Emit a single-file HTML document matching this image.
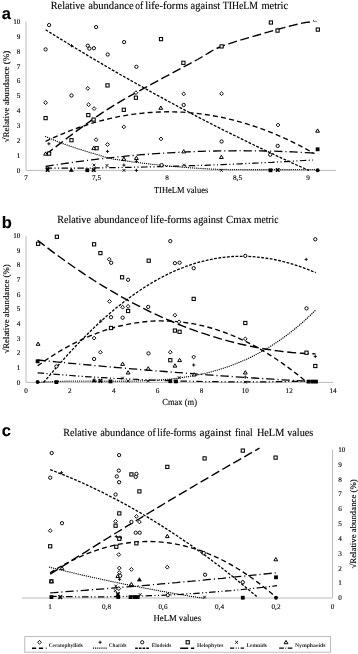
<!DOCTYPE html>
<html><head><meta charset="utf-8"><style>
html,body{margin:0;padding:0;background:#fff;}
svg{display:block;filter:blur(0.35px);text-rendering:geometricPrecision;}
</style></head><body>
<svg width="358" height="654" viewBox="0 0 358 654">
<rect width="358" height="654" fill="#fff"/>
<line x1="26" y1="21.5" x2="26" y2="170.4" stroke="#b4b4b4" stroke-width="0.9"/>
<line x1="26" y1="170.4" x2="336" y2="170.4" stroke="#b4b4b4" stroke-width="0.9"/>
<text x="20.4" y="172.7" font-size="7.2" font-family="'Liberation Serif', 'Times New Roman', serif" text-anchor="end" stroke="#000" stroke-width="0.12">0</text>
<text x="20.4" y="157.82" font-size="7.2" font-family="'Liberation Serif', 'Times New Roman', serif" text-anchor="end" stroke="#000" stroke-width="0.12">1</text>
<text x="20.4" y="142.94" font-size="7.2" font-family="'Liberation Serif', 'Times New Roman', serif" text-anchor="end" stroke="#000" stroke-width="0.12">2</text>
<text x="20.4" y="128.06" font-size="7.2" font-family="'Liberation Serif', 'Times New Roman', serif" text-anchor="end" stroke="#000" stroke-width="0.12">3</text>
<text x="20.4" y="113.18" font-size="7.2" font-family="'Liberation Serif', 'Times New Roman', serif" text-anchor="end" stroke="#000" stroke-width="0.12">4</text>
<text x="20.4" y="98.3" font-size="7.2" font-family="'Liberation Serif', 'Times New Roman', serif" text-anchor="end" stroke="#000" stroke-width="0.12">5</text>
<text x="20.4" y="83.42" font-size="7.2" font-family="'Liberation Serif', 'Times New Roman', serif" text-anchor="end" stroke="#000" stroke-width="0.12">6</text>
<text x="20.4" y="68.54" font-size="7.2" font-family="'Liberation Serif', 'Times New Roman', serif" text-anchor="end" stroke="#000" stroke-width="0.12">7</text>
<text x="20.4" y="53.66" font-size="7.2" font-family="'Liberation Serif', 'Times New Roman', serif" text-anchor="end" stroke="#000" stroke-width="0.12">8</text>
<text x="20.4" y="38.78" font-size="7.2" font-family="'Liberation Serif', 'Times New Roman', serif" text-anchor="end" stroke="#000" stroke-width="0.12">9</text>
<text x="20.4" y="23.9" font-size="7.2" font-family="'Liberation Serif', 'Times New Roman', serif" text-anchor="end" stroke="#000" stroke-width="0.12">10</text>
<text x="26" y="180.4" font-size="7.2" font-family="'Liberation Serif', 'Times New Roman', serif" text-anchor="middle" stroke="#000" stroke-width="0.12">7</text>
<text x="96.5" y="180.4" font-size="7.2" font-family="'Liberation Serif', 'Times New Roman', serif" text-anchor="middle" stroke="#000" stroke-width="0.12">7,5</text>
<text x="167" y="180.4" font-size="7.2" font-family="'Liberation Serif', 'Times New Roman', serif" text-anchor="middle" stroke="#000" stroke-width="0.12">8</text>
<text x="237.5" y="180.4" font-size="7.2" font-family="'Liberation Serif', 'Times New Roman', serif" text-anchor="middle" stroke="#000" stroke-width="0.12">8,5</text>
<text x="308" y="180.4" font-size="7.2" font-family="'Liberation Serif', 'Times New Roman', serif" text-anchor="middle" stroke="#000" stroke-width="0.12">9</text>
<text x="50.8" y="8.5" font-size="11.0" font-family="'Liberation Serif', 'Times New Roman', serif" textLength="34.1" lengthAdjust="spacingAndGlyphs" stroke="#000" stroke-width="0.12">Relative</text>
<text x="88.2" y="8.5" font-size="11.0" font-family="'Liberation Serif', 'Times New Roman', serif" textLength="45.5" lengthAdjust="spacingAndGlyphs" stroke="#000" stroke-width="0.12">abundance</text>
<text x="135.2" y="8.5" font-size="11.0" font-family="'Liberation Serif', 'Times New Roman', serif" textLength="7.9" lengthAdjust="spacingAndGlyphs" stroke="#000" stroke-width="0.12">of</text>
<text x="145.3" y="8.5" font-size="11.0" font-family="'Liberation Serif', 'Times New Roman', serif" textLength="42.5" lengthAdjust="spacingAndGlyphs" stroke="#000" stroke-width="0.12">life-forms</text>
<text x="190.6" y="8.5" font-size="11.0" font-family="'Liberation Serif', 'Times New Roman', serif" textLength="29.6" lengthAdjust="spacingAndGlyphs" stroke="#000" stroke-width="0.12">against</text>
<text x="222.7" y="8.5" font-size="11.0" font-family="'Liberation Serif', 'Times New Roman', serif" textLength="35.3" lengthAdjust="spacingAndGlyphs" stroke="#000" stroke-width="0.12">TIHeLM</text>
<text x="261.5" y="8.5" font-size="11.0" font-family="'Liberation Serif', 'Times New Roman', serif" textLength="26.6" lengthAdjust="spacingAndGlyphs" stroke="#000" stroke-width="0.12">metric</text>
<text x="153.9" y="192.6" font-size="9.2" font-family="'Liberation Serif', 'Times New Roman', serif" textLength="54.3" lengthAdjust="spacingAndGlyphs" stroke="#000" stroke-width="0.12">TIHeLM values</text>
<text transform="translate(9.2,96.6) rotate(-90)" font-size="8.6" font-family="'Liberation Serif', 'Times New Roman', serif" text-anchor="middle" textLength="91.6" stroke="#000" stroke-width="0.12" lengthAdjust="spacingAndGlyphs">√Relative abundance (%)</text>
<text x="1.8" y="18.6" font-size="16.5" font-family="'Liberation Sans', Arial, sans-serif" font-weight="bold" stroke="#000" stroke-width="0.12">a</text>
<line x1="26" y1="235.7" x2="26" y2="382.4" stroke="#b4b4b4" stroke-width="0.9"/>
<line x1="26" y1="382.4" x2="333" y2="382.4" stroke="#b4b4b4" stroke-width="0.9"/>
<text x="20.4" y="384.7" font-size="7.2" font-family="'Liberation Serif', 'Times New Roman', serif" text-anchor="end" stroke="#000" stroke-width="0.12">0</text>
<text x="20.4" y="370.03" font-size="7.2" font-family="'Liberation Serif', 'Times New Roman', serif" text-anchor="end" stroke="#000" stroke-width="0.12">1</text>
<text x="20.4" y="355.36" font-size="7.2" font-family="'Liberation Serif', 'Times New Roman', serif" text-anchor="end" stroke="#000" stroke-width="0.12">2</text>
<text x="20.4" y="340.69" font-size="7.2" font-family="'Liberation Serif', 'Times New Roman', serif" text-anchor="end" stroke="#000" stroke-width="0.12">3</text>
<text x="20.4" y="326.02" font-size="7.2" font-family="'Liberation Serif', 'Times New Roman', serif" text-anchor="end" stroke="#000" stroke-width="0.12">4</text>
<text x="20.4" y="311.35" font-size="7.2" font-family="'Liberation Serif', 'Times New Roman', serif" text-anchor="end" stroke="#000" stroke-width="0.12">5</text>
<text x="20.4" y="296.68" font-size="7.2" font-family="'Liberation Serif', 'Times New Roman', serif" text-anchor="end" stroke="#000" stroke-width="0.12">6</text>
<text x="20.4" y="282.01" font-size="7.2" font-family="'Liberation Serif', 'Times New Roman', serif" text-anchor="end" stroke="#000" stroke-width="0.12">7</text>
<text x="20.4" y="267.34" font-size="7.2" font-family="'Liberation Serif', 'Times New Roman', serif" text-anchor="end" stroke="#000" stroke-width="0.12">8</text>
<text x="20.4" y="252.67" font-size="7.2" font-family="'Liberation Serif', 'Times New Roman', serif" text-anchor="end" stroke="#000" stroke-width="0.12">9</text>
<text x="20.4" y="238.0" font-size="7.2" font-family="'Liberation Serif', 'Times New Roman', serif" text-anchor="end" stroke="#000" stroke-width="0.12">10</text>
<text x="26.0" y="392.6" font-size="7.2" font-family="'Liberation Serif', 'Times New Roman', serif" text-anchor="middle" stroke="#000" stroke-width="0.12">0</text>
<text x="69.86" y="392.6" font-size="7.2" font-family="'Liberation Serif', 'Times New Roman', serif" text-anchor="middle" stroke="#000" stroke-width="0.12">2</text>
<text x="113.72" y="392.6" font-size="7.2" font-family="'Liberation Serif', 'Times New Roman', serif" text-anchor="middle" stroke="#000" stroke-width="0.12">4</text>
<text x="157.58" y="392.6" font-size="7.2" font-family="'Liberation Serif', 'Times New Roman', serif" text-anchor="middle" stroke="#000" stroke-width="0.12">6</text>
<text x="201.44" y="392.6" font-size="7.2" font-family="'Liberation Serif', 'Times New Roman', serif" text-anchor="middle" stroke="#000" stroke-width="0.12">8</text>
<text x="245.3" y="392.6" font-size="7.2" font-family="'Liberation Serif', 'Times New Roman', serif" text-anchor="middle" stroke="#000" stroke-width="0.12">10</text>
<text x="289.16" y="392.6" font-size="7.2" font-family="'Liberation Serif', 'Times New Roman', serif" text-anchor="middle" stroke="#000" stroke-width="0.12">12</text>
<text x="333.02" y="392.6" font-size="7.2" font-family="'Liberation Serif', 'Times New Roman', serif" text-anchor="middle" stroke="#000" stroke-width="0.12">14</text>
<text x="57.2" y="222.8" font-size="11.0" font-family="'Liberation Serif', 'Times New Roman', serif" textLength="33.7" lengthAdjust="spacingAndGlyphs" stroke="#000" stroke-width="0.12">Relative</text>
<text x="94.2" y="222.8" font-size="11.0" font-family="'Liberation Serif', 'Times New Roman', serif" textLength="44.9" lengthAdjust="spacingAndGlyphs" stroke="#000" stroke-width="0.12">abundance</text>
<text x="140.2" y="222.8" font-size="11.0" font-family="'Liberation Serif', 'Times New Roman', serif" textLength="7.9" lengthAdjust="spacingAndGlyphs" stroke="#000" stroke-width="0.12">of</text>
<text x="150.3" y="222.8" font-size="11.0" font-family="'Liberation Serif', 'Times New Roman', serif" textLength="41.0" lengthAdjust="spacingAndGlyphs" stroke="#000" stroke-width="0.12">life-forms</text>
<text x="193.6" y="222.8" font-size="11.0" font-family="'Liberation Serif', 'Times New Roman', serif" textLength="29.3" lengthAdjust="spacingAndGlyphs" stroke="#000" stroke-width="0.12">against</text>
<text x="226.1" y="222.8" font-size="11.0" font-family="'Liberation Serif', 'Times New Roman', serif" textLength="25.5" lengthAdjust="spacingAndGlyphs" stroke="#000" stroke-width="0.12">Cmax</text>
<text x="254.0" y="222.8" font-size="11.0" font-family="'Liberation Serif', 'Times New Roman', serif" textLength="24.4" lengthAdjust="spacingAndGlyphs" stroke="#000" stroke-width="0.12">metric</text>
<text x="162.3" y="404.7" font-size="9.2" font-family="'Liberation Serif', 'Times New Roman', serif" textLength="34.7" lengthAdjust="spacingAndGlyphs" stroke="#000" stroke-width="0.12">Cmax (m)</text>
<text transform="translate(8.6,308.9) rotate(-90)" font-size="8.6" font-family="'Liberation Serif', 'Times New Roman', serif" text-anchor="middle" textLength="89.4" stroke="#000" stroke-width="0.12" lengthAdjust="spacingAndGlyphs">√Relative abundance (%)</text>
<text x="1.8" y="227.9" font-size="16.5" font-family="'Liberation Sans', Arial, sans-serif" font-weight="bold" stroke="#000" stroke-width="0.12">b</text>
<line x1="332.5" y1="449.5" x2="332.5" y2="598" stroke="#b4b4b4" stroke-width="0.9"/>
<line x1="21.8" y1="598" x2="332.5" y2="598" stroke="#b4b4b4" stroke-width="0.9"/>
<text x="338.2" y="600.3" font-size="7.2" font-family="'Liberation Serif', 'Times New Roman', serif" stroke="#000" stroke-width="0.12">0</text>
<text x="338.2" y="585.45" font-size="7.2" font-family="'Liberation Serif', 'Times New Roman', serif" stroke="#000" stroke-width="0.12">1</text>
<text x="338.2" y="570.6" font-size="7.2" font-family="'Liberation Serif', 'Times New Roman', serif" stroke="#000" stroke-width="0.12">2</text>
<text x="338.2" y="555.75" font-size="7.2" font-family="'Liberation Serif', 'Times New Roman', serif" stroke="#000" stroke-width="0.12">3</text>
<text x="338.2" y="540.9" font-size="7.2" font-family="'Liberation Serif', 'Times New Roman', serif" stroke="#000" stroke-width="0.12">4</text>
<text x="338.2" y="526.05" font-size="7.2" font-family="'Liberation Serif', 'Times New Roman', serif" stroke="#000" stroke-width="0.12">5</text>
<text x="338.2" y="511.2" font-size="7.2" font-family="'Liberation Serif', 'Times New Roman', serif" stroke="#000" stroke-width="0.12">6</text>
<text x="338.2" y="496.35" font-size="7.2" font-family="'Liberation Serif', 'Times New Roman', serif" stroke="#000" stroke-width="0.12">7</text>
<text x="338.2" y="481.5" font-size="7.2" font-family="'Liberation Serif', 'Times New Roman', serif" stroke="#000" stroke-width="0.12">8</text>
<text x="338.2" y="466.65" font-size="7.2" font-family="'Liberation Serif', 'Times New Roman', serif" stroke="#000" stroke-width="0.12">9</text>
<text x="338.2" y="451.8" font-size="7.2" font-family="'Liberation Serif', 'Times New Roman', serif" stroke="#000" stroke-width="0.12">10</text>
<text x="50.0" y="608.8" font-size="7.2" font-family="'Liberation Serif', 'Times New Roman', serif" text-anchor="middle" stroke="#000" stroke-width="0.12">1</text>
<text x="106.5" y="608.8" font-size="7.2" font-family="'Liberation Serif', 'Times New Roman', serif" text-anchor="middle" stroke="#000" stroke-width="0.12">0,8</text>
<text x="163.0" y="608.8" font-size="7.2" font-family="'Liberation Serif', 'Times New Roman', serif" text-anchor="middle" stroke="#000" stroke-width="0.12">0,6</text>
<text x="219.5" y="608.8" font-size="7.2" font-family="'Liberation Serif', 'Times New Roman', serif" text-anchor="middle" stroke="#000" stroke-width="0.12">0,4</text>
<text x="276.0" y="608.8" font-size="7.2" font-family="'Liberation Serif', 'Times New Roman', serif" text-anchor="middle" stroke="#000" stroke-width="0.12">0,2</text>
<text x="332.5" y="608.8" font-size="7.2" font-family="'Liberation Serif', 'Times New Roman', serif" text-anchor="middle" stroke="#000" stroke-width="0.12">0</text>
<text x="63.2" y="436.1" font-size="11.0" font-family="'Liberation Serif', 'Times New Roman', serif" textLength="33.7" lengthAdjust="spacingAndGlyphs" stroke="#000" stroke-width="0.12">Relative</text>
<text x="100.2" y="436.1" font-size="11.0" font-family="'Liberation Serif', 'Times New Roman', serif" textLength="44.5" lengthAdjust="spacingAndGlyphs" stroke="#000" stroke-width="0.12">abundance</text>
<text x="147.6" y="436.1" font-size="11.0" font-family="'Liberation Serif', 'Times New Roman', serif" textLength="8.0" lengthAdjust="spacingAndGlyphs" stroke="#000" stroke-width="0.12">of</text>
<text x="157.3" y="436.1" font-size="11.0" font-family="'Liberation Serif', 'Times New Roman', serif" textLength="38.6" lengthAdjust="spacingAndGlyphs" stroke="#000" stroke-width="0.12">life-forms</text>
<text x="199.5" y="436.1" font-size="11.0" font-family="'Liberation Serif', 'Times New Roman', serif" textLength="32.0" lengthAdjust="spacingAndGlyphs" stroke="#000" stroke-width="0.12">against</text>
<text x="235.0" y="436.1" font-size="11.0" font-family="'Liberation Serif', 'Times New Roman', serif" textLength="17.6" lengthAdjust="spacingAndGlyphs" stroke="#000" stroke-width="0.12">final</text>
<text x="256.9" y="436.1" font-size="11.0" font-family="'Liberation Serif', 'Times New Roman', serif" textLength="27.4" lengthAdjust="spacingAndGlyphs" stroke="#000" stroke-width="0.12">HeLM</text>
<text x="287.2" y="436.1" font-size="11.0" font-family="'Liberation Serif', 'Times New Roman', serif" textLength="26.1" lengthAdjust="spacingAndGlyphs" stroke="#000" stroke-width="0.12">values</text>
<text x="153.5" y="620.6" font-size="9.2" font-family="'Liberation Serif', 'Times New Roman', serif" textLength="47.6" lengthAdjust="spacingAndGlyphs" stroke="#000" stroke-width="0.12">HeLM values</text>
<text transform="translate(356.4,523.9) rotate(-90)" font-size="8.6" font-family="'Liberation Serif', 'Times New Roman', serif" text-anchor="middle" textLength="89.2" stroke="#000" stroke-width="0.12" lengthAdjust="spacingAndGlyphs">√Relative abundance (%)</text>
<text x="1.8" y="435.5" font-size="16.5" font-family="'Liberation Sans', Arial, sans-serif" font-weight="bold" stroke="#000" stroke-width="0.12">c</text>
<rect x="24.8" y="636.6" width="305.8" height="15.6" fill="none" stroke="#b4b4b4" stroke-width="0.9"/>
<path d="M45.6,29.8 L50.1,32.6 L54.5,35.3 L59.0,38.1 L63.5,40.8 L67.9,43.5 L72.4,46.3 L76.9,49.0 L81.3,51.6 L85.8,54.3 L90.2,57.0 L94.7,59.6 L99.2,62.2 L103.6,64.9 L108.1,67.5 L112.6,70.1 L117.0,72.6 L121.5,75.2 L126.0,77.7 L130.4,80.3 L134.9,82.8 L139.4,85.3 L143.8,87.8 L148.3,90.3 L152.7,92.8 L157.2,95.2 L161.7,97.6 L166.1,100.1 L170.6,102.5 L175.1,104.9 L179.5,107.3 L184.0,109.6 L188.5,112.0 L192.9,114.3 L197.4,116.7 L201.9,119.0 L206.3,121.3 L210.8,123.6 L215.2,125.9 L219.7,128.1 L224.2,130.4 L228.6,132.6 L233.1,134.8 L237.6,137.0 L242.0,139.2 L246.5,141.4 L251.0,143.6 L255.4,145.7 L259.9,147.9 L264.4,150.0 L268.8,152.1 L273.3,154.2 L277.7,156.3 L282.2,158.4 L286.7,160.4 L291.1,162.5 L295.6,164.5 L300.1,166.5 L304.5,168.5 L309.0,170.4" fill="none" stroke="#000" stroke-width="1.3" stroke-dasharray="2.8 1.5"/>
<path d="M45.6,154.5 L48.6,152.2 L52.4,149.4 L56.7,146.1 L61.6,142.4 L66.9,138.3 L72.5,134.1 L78.5,129.6 L84.7,125.1 L91.0,120.6 L97.4,116.1 L103.7,111.8 L110.0,107.8 L116.5,103.8 L123.5,99.7 L131.0,95.4 L138.7,91.1 L146.6,86.8 L154.4,82.6 L162.1,78.4 L169.6,74.5 L176.7,70.7 L183.2,67.2 L189.1,64.1 L194.2,61.3 L198.4,59.0 L201.8,57.0 L204.6,55.3 L206.8,54.0 L208.7,52.8 L210.3,51.8 L211.7,51.0 L213.2,50.2 L214.7,49.3 L216.6,48.5 L218.8,47.5 L221.6,46.4 L224.9,45.2 L228.6,43.9 L232.6,42.6 L236.8,41.2 L241.1,39.9 L245.5,38.6 L249.8,37.3 L254.1,36.1 L258.1,35.0 L261.8,33.9 L265.1,32.9 L268.0,32.1 L270.4,31.4 L272.4,30.8 L274.2,30.3 L275.6,29.9 L276.8,29.5 L277.9,29.2 L278.9,29.0 L279.9,28.7 L280.8,28.5 L281.8,28.2 L282.9,27.9 L284.2,27.6 L285.6,27.2 L287.1,26.8 L288.6,26.4 L290.1,26.0 L291.7,25.6 L293.2,25.3 L294.7,24.9 L296.2,24.5 L297.6,24.2 L298.9,23.8 L300.2,23.6 L301.3,23.3 L302.3,23.1 L303.3,22.9 L304.2,22.7 L305.0,22.6 L305.8,22.5 L306.5,22.4 L307.2,22.3 L307.9,22.3 L308.5,22.2 L309.0,22.1 L309.6,22.0 L310.1,21.9 L310.6,21.8 L311.1,21.7 L311.5,21.5 L311.8,21.4 L312.2,21.2 L312.5,21.1 L312.8,21.0 L313.0,20.9 L313.3,20.8 L313.5,20.7 L313.6,20.6 L313.8,20.5" fill="none" stroke="#000" stroke-width="1.4" stroke-dasharray="9 3.6"/>
<path d="M45.6,141.4 L50.2,139.2 L54.7,137.2 L59.3,135.2 L63.8,133.3 L68.4,131.4 L72.9,129.7 L77.5,128.0 L82.1,126.5 L86.6,125.0 L91.2,123.5 L95.7,122.2 L100.3,120.9 L104.8,119.8 L109.4,118.7 L114.0,117.7 L118.5,116.7 L123.1,115.9 L127.6,115.1 L132.2,114.4 L136.8,113.8 L141.3,113.3 L145.9,112.8 L150.4,112.5 L155.0,112.2 L159.5,112.0 L164.1,111.9 L168.7,111.8 L173.2,111.9 L177.8,112.0 L182.3,112.2 L186.9,112.5 L191.4,112.9 L196.0,113.3 L200.6,113.9 L205.1,114.5 L209.7,115.2 L214.2,116.0 L218.8,116.8 L223.3,117.7 L227.9,118.8 L232.5,119.9 L237.0,121.1 L241.6,122.3 L246.1,123.7 L250.7,125.1 L255.3,126.6 L259.8,128.2 L264.4,129.9 L268.9,131.6 L273.5,133.4 L278.0,135.4 L282.6,137.4 L287.2,139.4 L291.7,141.6 L296.3,143.8 L300.8,146.2 L305.4,148.6 L309.9,151.1 L314.5,153.6" fill="none" stroke="#000" stroke-width="1.35" stroke-dasharray="5 3.2"/>
<path d="M45.6,136.6 L46.5,136.9 L47.5,137.4 L48.7,137.9 L50.1,138.5 L51.6,139.1 L53.2,139.8 L54.9,140.5 L56.6,141.2 L58.4,141.9 L60.1,142.5 L61.8,143.2 L63.4,143.8 L65.0,144.4 L66.7,145.0 L68.4,145.6 L70.1,146.2 L71.9,146.7 L73.7,147.3 L75.4,147.9 L77.1,148.5 L78.8,149.0 L80.5,149.5 L82.0,150.0 L83.5,150.5 L84.9,150.9 L86.2,151.4 L87.4,151.7 L88.6,152.1 L89.8,152.5 L90.9,152.8 L92.0,153.1 L93.1,153.4 L94.2,153.8 L95.4,154.1 L96.6,154.4 L97.9,154.8 L99.1,155.2 L100.3,155.5 L101.3,155.9 L102.4,156.2 L103.4,156.6 L104.5,157.0 L105.7,157.3 L107.1,157.7 L108.7,158.1 L110.5,158.5 L112.6,158.9 L115.0,159.3 L117.8,159.7 L121.0,160.2 L124.5,160.7 L128.2,161.2 L132.2,161.8 L136.2,162.3 L140.4,162.8 L144.6,163.3 L148.7,163.8 L152.7,164.3 L156.6,164.7 L160.3,165.1 L163.8,165.5 L167.3,165.8 L170.7,166.2 L174.1,166.5 L177.5,166.8 L180.8,167.0 L184.1,167.3 L187.3,167.5 L190.5,167.8 L193.7,168.0 L196.9,168.2 L200.0,168.4 L202.9,168.6 L205.6,168.7 L208.0,168.9 L210.3,169.0 L212.6,169.1 L214.9,169.2 L217.4,169.3 L220.1,169.4 L223.1,169.4 L226.6,169.5 L230.5,169.5 L235.0,169.6 L240.4,169.6 L246.8,169.7 L253.9,169.7 L261.6,169.7 L269.6,169.7 L277.7,169.7 L285.7,169.7 L293.3,169.6 L300.4,169.6 L306.7,169.6 L311.9,169.6 L316.0,169.6" fill="none" stroke="#000" stroke-width="1.25" stroke-dasharray="0.1 2.0" stroke-linecap="round"/>
<path d="M45.6,166.5 L50.2,165.7 L54.7,165.0 L59.3,164.3 L63.9,163.6 L68.5,163.0 L73.0,162.3 L77.6,161.7 L82.2,161.1 L86.8,160.5 L91.3,159.9 L95.9,159.4 L100.5,158.8 L105.1,158.3 L109.6,157.8 L114.2,157.3 L118.8,156.8 L123.4,156.4 L127.9,155.9 L132.5,155.5 L137.1,155.1 L141.7,154.7 L146.2,154.4 L150.8,154.0 L155.4,153.7 L160.0,153.4 L164.5,153.1 L169.1,152.8 L173.7,152.6 L178.3,152.3 L182.8,152.1 L187.4,151.9 L192.0,151.7 L196.6,151.5 L201.1,151.4 L205.7,151.2 L210.3,151.1 L214.9,151.0 L219.4,150.9 L224.0,150.8 L228.6,150.8 L233.2,150.8 L237.7,150.7 L242.3,150.7 L246.9,150.8 L251.5,150.8 L256.0,150.9 L260.6,150.9 L265.2,151.0 L269.8,151.1 L274.3,151.2 L278.9,151.4 L283.5,151.5 L288.1,151.7 L292.6,151.9 L297.2,152.1 L301.8,152.4 L306.4,152.6 L310.9,152.9 L315.5,153.1" fill="none" stroke="#000" stroke-width="1.3" stroke-dasharray="8.2 3 1.1 3"/>
<path d="M45.6,168.2 L50.1,168.2 L54.7,168.2 L59.2,168.2 L63.7,168.2 L68.3,168.2 L72.8,168.1 L77.3,168.1 L81.9,168.1 L86.4,168.0 L90.9,168.0 L95.5,167.9 L100.0,167.9 L104.5,167.8 L109.1,167.7 L113.6,167.7 L118.1,167.6 L122.6,167.5 L127.2,167.4 L131.7,167.3 L136.2,167.2 L140.8,167.1 L145.3,167.0 L149.8,166.9 L154.4,166.8 L158.9,166.7 L163.4,166.6 L168.0,166.4 L172.5,166.3 L177.0,166.2 L181.6,166.0 L186.1,165.9 L190.6,165.7 L195.2,165.6 L199.7,165.4 L204.2,165.3 L208.8,165.1 L213.3,164.9 L217.8,164.8 L222.4,164.6 L226.9,164.4 L231.4,164.2 L236.0,164.0 L240.5,163.8 L245.0,163.6 L249.5,163.4 L254.1,163.2 L258.6,163.0 L263.1,162.7 L267.7,162.5 L272.2,162.3 L276.7,162.0 L281.3,161.8 L285.8,161.6 L290.3,161.3 L294.9,161.1 L299.4,160.8 L303.9,160.5 L308.5,160.3 L313.0,160.0" fill="none" stroke="#000" stroke-width="1.2" stroke-dasharray="6.5 2.4 1.1 2.4 1.1 2.4"/>
<path d="M37.6,240.2 L42.3,243.9 L47.0,247.5 L51.7,251.1 L56.4,254.6 L61.2,258.0 L65.9,261.4 L70.6,264.7 L75.3,268.0 L80.0,271.2 L84.7,274.4 L89.4,277.4 L94.1,280.5 L98.8,283.4 L103.5,286.3 L108.3,289.2 L113.0,291.9 L117.7,294.7 L122.4,297.3 L127.1,299.9 L131.8,302.5 L136.5,304.9 L141.2,307.3 L145.9,309.7 L150.6,312.0 L155.4,314.2 L160.1,316.4 L164.8,318.5 L169.5,320.5 L174.2,322.5 L178.9,324.5 L183.6,326.3 L188.3,328.1 L193.0,329.9 L197.7,331.6 L202.5,333.2 L207.2,334.7 L211.9,336.2 L216.6,337.7 L221.3,339.1 L226.0,340.4 L230.7,341.6 L235.4,342.8 L240.1,344.0 L244.8,345.0 L249.6,346.1 L254.3,347.0 L259.0,347.9 L263.7,348.7 L268.4,349.5 L273.1,350.2 L277.8,350.9 L282.5,351.5 L287.2,352.0 L291.9,352.5 L296.7,352.9 L301.4,353.2 L306.1,353.5 L310.8,353.7 L315.5,353.9" fill="none" stroke="#000" stroke-width="1.4" stroke-dasharray="9 3.6"/>
<path d="M43.5,382.4 L48.1,377.2 L52.7,371.8 L57.3,366.4 L62.0,361.1 L66.6,356.0 L71.2,350.9 L75.8,346.0 L80.4,341.2 L85.0,336.5 L89.7,331.9 L94.3,327.4 L98.9,323.1 L103.5,318.9 L108.1,314.8 L112.7,310.9 L117.3,307.1 L122.0,303.4 L126.6,299.8 L131.2,296.4 L135.8,293.1 L140.4,290.0 L145.0,287.0 L149.7,284.1 L154.3,281.4 L158.9,278.8 L163.5,276.3 L168.1,274.0 L172.7,271.9 L177.3,269.8 L182.0,268.0 L186.6,266.2 L191.2,264.6 L195.8,263.2 L200.4,261.8 L205.0,260.7 L209.6,259.6 L214.3,258.7 L218.9,258.0 L223.5,257.4 L228.1,256.9 L232.7,256.5 L237.3,256.3 L242.0,256.3 L246.6,256.3 L251.2,256.6 L255.8,256.9 L260.4,257.4 L265.0,258.0 L269.6,258.7 L274.3,259.5 L278.9,260.5 L283.5,261.6 L288.1,262.9 L292.7,264.2 L297.3,265.7 L302.0,267.3 L306.6,268.9 L311.2,270.8 L315.8,272.7" fill="none" stroke="#000" stroke-width="1.3" stroke-dasharray="2.8 1.5"/>
<path d="M37.6,365.8 L42.2,362.6 L46.7,359.5 L51.3,356.5 L55.9,353.6 L60.4,350.8 L65.0,348.2 L69.6,345.7 L74.1,343.3 L78.7,341.0 L83.3,338.9 L87.8,336.8 L92.4,334.9 L97.0,333.2 L101.5,331.5 L106.1,329.9 L110.7,328.5 L115.2,327.2 L119.8,326.0 L124.4,325.0 L128.9,324.1 L133.5,323.2 L138.1,322.6 L142.6,322.0 L147.2,321.5 L151.8,321.2 L156.3,321.0 L160.9,320.9 L165.5,321.0 L170.0,321.1 L174.6,321.4 L179.1,321.8 L183.7,322.3 L188.3,323.0 L192.8,323.7 L197.4,324.6 L202.0,325.6 L206.5,326.8 L211.1,328.0 L215.7,329.4 L220.2,330.9 L224.8,332.5 L229.4,334.2 L233.9,336.1 L238.5,338.1 L243.1,340.2 L247.6,342.4 L252.2,344.8 L256.8,347.2 L261.3,349.8 L265.9,352.5 L270.5,355.4 L275.0,358.3 L279.6,361.4 L284.2,364.6 L288.7,367.9 L293.3,371.3 L297.9,374.9 L302.4,378.6 L307.0,382.4" fill="none" stroke="#000" stroke-width="1.35" stroke-dasharray="5 3.2"/>
<path d="M37.6,382.4 L42.3,382.2 L47.0,381.9 L51.7,381.7 L56.4,381.5 L61.2,381.3 L65.9,381.2 L70.6,381.1 L75.3,381.1 L80.0,381.1 L84.7,381.1 L89.4,381.1 L94.1,381.1 L98.8,381.1 L103.5,381.1 L108.3,381.2 L113.0,381.2 L117.7,381.2 L122.4,381.2 L127.1,381.1 L131.8,381.1 L136.5,381.0 L141.2,380.8 L145.9,380.7 L150.6,380.5 L155.4,380.2 L160.1,379.9 L164.8,379.5 L169.5,379.1 L174.2,378.6 L178.9,378.0 L183.6,377.3 L188.3,376.6 L193.0,375.8 L197.7,374.9 L202.5,373.9 L207.2,372.8 L211.9,371.6 L216.6,370.3 L221.3,368.9 L226.0,367.4 L230.7,365.7 L235.4,363.9 L240.1,362.0 L244.8,360.0 L249.6,357.8 L254.3,355.5 L259.0,353.0 L263.7,350.4 L268.4,347.6 L273.1,344.7 L277.8,341.6 L282.5,338.3 L287.2,334.8 L291.9,331.2 L296.7,327.4 L301.4,323.4 L306.1,319.2 L310.8,314.8 L315.5,310.2" fill="none" stroke="#000" stroke-width="1.25" stroke-dasharray="0.1 2.0" stroke-linecap="round"/>
<path d="M37.6,360.0 L42.3,360.5 L47.0,360.9 L51.7,361.4 L56.4,361.9 L61.2,362.3 L65.9,362.8 L70.6,363.3 L75.3,363.7 L80.0,364.2 L84.7,364.6 L89.4,365.0 L94.1,365.5 L98.8,365.9 L103.5,366.3 L108.3,366.8 L113.0,367.2 L117.7,367.6 L122.4,368.0 L127.1,368.4 L131.8,368.8 L136.5,369.2 L141.2,369.6 L145.9,370.0 L150.6,370.4 L155.4,370.8 L160.1,371.2 L164.8,371.5 L169.5,371.9 L174.2,372.3 L178.9,372.7 L183.6,373.0 L188.3,373.4 L193.0,373.7 L197.7,374.1 L202.5,374.4 L207.2,374.8 L211.9,375.1 L216.6,375.5 L221.3,375.8 L226.0,376.1 L230.7,376.4 L235.4,376.8 L240.1,377.1 L244.8,377.4 L249.6,377.7 L254.3,378.0 L259.0,378.3 L263.7,378.6 L268.4,378.9 L273.1,379.2 L277.8,379.5 L282.5,379.8 L287.2,380.1 L291.9,380.3 L296.7,380.6 L301.4,380.9 L306.1,381.1 L310.8,381.4 L315.5,381.7" fill="none" stroke="#000" stroke-width="1.3" stroke-dasharray="8.2 3 1.1 3"/>
<path d="M37.6,372.8 L42.3,373.2 L47.0,373.6 L51.7,374.0 L56.4,374.4 L61.2,374.8 L65.9,375.1 L70.6,375.5 L75.3,375.8 L80.0,376.2 L84.7,376.5 L89.4,376.8 L94.1,377.1 L98.8,377.4 L103.5,377.7 L108.3,378.0 L113.0,378.2 L117.7,378.5 L122.4,378.7 L127.1,379.0 L131.8,379.2 L136.5,379.4 L141.2,379.6 L145.9,379.8 L150.6,380.0 L155.4,380.2 L160.1,380.4 L164.8,380.6 L169.5,380.7 L174.2,380.9 L178.9,381.0 L183.6,381.1 L188.3,381.2 L193.0,381.3 L197.7,381.4 L202.5,381.5 L207.2,381.6 L211.9,381.7 L216.6,381.7 L221.3,381.8 L226.0,381.8 L230.7,381.9 L235.4,381.9 L240.1,381.9 L244.8,381.9 L249.6,381.9 L254.3,381.9 L259.0,381.8 L263.7,381.8 L268.4,381.8 L273.1,381.7 L277.8,381.7 L282.5,381.6 L287.2,381.5 L291.9,381.4 L296.7,381.3 L301.4,381.2 L306.1,381.1 L310.8,380.9 L315.5,380.8" fill="none" stroke="#000" stroke-width="1.2" stroke-dasharray="6.5 2.4 1.1 2.4 1.1 2.4"/>
<path d="M50.2,469.7 L53.7,471.0 L57.2,472.4 L60.8,473.8 L64.3,475.2 L67.8,476.7 L71.3,478.1 L74.9,479.6 L78.4,481.2 L81.9,482.7 L85.4,484.3 L88.9,485.9 L92.5,487.6 L96.0,489.3 L99.5,491.0 L103.0,492.7 L106.6,494.5 L110.1,496.3 L113.6,498.1 L117.1,499.9 L120.6,501.8 L124.2,503.7 L127.7,505.7 L131.2,507.6 L134.7,509.6 L138.3,511.6 L141.8,513.7 L145.3,515.8 L148.8,517.9 L152.3,520.0 L155.9,522.2 L159.4,524.4 L162.9,526.6 L166.4,528.9 L169.9,531.1 L173.5,533.5 L177.0,535.8 L180.5,538.2 L184.0,540.6 L187.6,543.0 L191.1,545.4 L194.6,547.9 L198.1,550.4 L201.6,553.0 L205.2,555.5 L208.7,558.1 L212.2,560.8 L215.7,563.4 L219.3,566.1 L222.8,568.8 L226.3,571.6 L229.8,574.3 L233.3,577.1 L236.9,580.0 L240.4,582.8 L243.9,585.7 L247.4,588.6 L251.0,591.6 L254.5,594.5 L258.0,597.5" fill="none" stroke="#000" stroke-width="1.3" stroke-dasharray="2.8 1.5"/>
<path d="M50.2,574.2 L53.7,571.9 L57.3,569.7 L60.8,567.4 L64.4,565.2 L67.9,562.9 L71.5,560.7 L75.0,558.4 L78.6,556.2 L82.1,554.0 L85.7,551.8 L89.2,549.5 L92.8,547.3 L96.3,545.1 L99.9,542.9 L103.4,540.7 L107.0,538.5 L110.5,536.3 L114.1,534.1 L117.6,532.0 L121.1,529.8 L124.7,527.6 L128.2,525.4 L131.8,523.3 L135.3,521.1 L138.9,519.0 L142.4,516.8 L146.0,514.6 L149.5,512.5 L153.1,510.4 L156.6,508.2 L160.2,506.1 L163.7,504.0 L167.3,501.8 L170.8,499.7 L174.4,497.6 L177.9,495.5 L181.5,493.4 L185.0,491.3 L188.6,489.2 L192.1,487.1 L195.6,485.0 L199.2,482.9 L202.7,480.9 L206.3,478.8 L209.8,476.7 L213.4,474.7 L216.9,472.6 L220.5,470.5 L224.0,468.5 L227.6,466.4 L231.1,464.4 L234.7,462.3 L238.2,460.3 L241.8,458.3 L245.3,456.3 L248.9,454.2 L252.4,452.2 L256.0,450.2 L259.5,448.2" fill="none" stroke="#000" stroke-width="1.4" stroke-dasharray="9 3.6"/>
<path d="M50.2,572.8 L54.0,570.4 L57.9,568.1 L61.7,565.9 L65.6,563.8 L69.4,561.8 L73.3,559.9 L77.1,558.0 L81.0,556.3 L84.8,554.7 L88.6,553.1 L92.5,551.7 L96.3,550.3 L100.2,549.1 L104.0,547.9 L107.9,546.8 L111.7,545.9 L115.5,545.0 L119.4,544.2 L123.2,543.5 L127.1,543.0 L130.9,542.5 L134.8,542.1 L138.6,541.8 L142.5,541.6 L146.3,541.5 L150.1,541.5 L154.0,541.6 L157.8,541.8 L161.7,542.1 L165.5,542.5 L169.4,543.0 L173.2,543.6 L177.1,544.3 L180.9,545.1 L184.7,546.0 L188.6,547.0 L192.4,548.1 L196.3,549.2 L200.1,550.5 L204.0,551.9 L207.8,553.5 L211.7,555.1 L215.5,556.8 L219.3,558.6 L223.2,560.5 L227.0,562.5 L230.9,564.6 L234.7,566.8 L238.6,569.2 L242.4,571.6 L246.2,574.1 L250.1,576.8 L253.9,579.5 L257.8,582.4 L261.6,585.3 L265.5,588.4 L269.3,591.5 L273.2,594.8 L277.0,598.0" fill="none" stroke="#000" stroke-width="1.35" stroke-dasharray="5 3.2"/>
<path d="M49.5,567.2 L52.1,567.9 L54.8,568.5 L57.4,569.1 L60.0,569.8 L62.7,570.4 L65.3,571.1 L67.9,571.7 L70.6,572.3 L73.2,572.9 L75.9,573.5 L78.5,574.2 L81.1,574.8 L83.8,575.4 L86.4,576.0 L89.0,576.6 L91.7,577.1 L94.3,577.7 L96.9,578.3 L99.6,578.9 L102.2,579.5 L104.8,580.0 L107.5,580.6 L110.1,581.1 L112.8,581.7 L115.4,582.3 L118.0,582.8 L120.7,583.3 L123.3,583.9 L125.9,584.4 L128.6,584.9 L131.2,585.5 L133.8,586.0 L136.5,586.5 L139.1,587.0 L141.7,587.5 L144.4,588.0 L147.0,588.5 L149.7,589.0 L152.3,589.5 L154.9,590.0 L157.6,590.5 L160.2,591.0 L162.8,591.4 L165.5,591.9 L168.1,592.4 L170.7,592.8 L173.4,593.3 L176.0,593.8 L178.6,594.2 L181.3,594.6 L183.9,595.1 L186.6,595.5 L189.2,596.0 L191.8,596.4 L194.5,596.8 L197.1,597.2 L199.7,597.6 L202.4,598.0 L205.0,598.0" fill="none" stroke="#000" stroke-width="1.25" stroke-dasharray="0.1 2.0" stroke-linecap="round"/>
<path d="M50.2,592.8 L54.0,592.6 L57.9,592.3 L61.7,592.0 L65.5,591.7 L69.3,591.4 L73.2,591.1 L77.0,590.9 L80.8,590.6 L84.6,590.3 L88.5,590.0 L92.3,589.7 L96.1,589.4 L100.0,589.1 L103.8,588.8 L107.6,588.5 L111.4,588.2 L115.3,587.8 L119.1,587.5 L122.9,587.2 L126.7,586.9 L130.6,586.6 L134.4,586.3 L138.2,585.9 L142.1,585.6 L145.9,585.3 L149.7,585.0 L153.5,584.6 L157.4,584.3 L161.2,583.9 L165.0,583.6 L168.8,583.3 L172.7,582.9 L176.5,582.6 L180.3,582.2 L184.1,581.9 L188.0,581.5 L191.8,581.2 L195.6,580.8 L199.5,580.5 L203.3,580.1 L207.1,579.7 L210.9,579.4 L214.8,579.0 L218.6,578.6 L222.4,578.3 L226.2,577.9 L230.1,577.5 L233.9,577.1 L237.7,576.7 L241.6,576.4 L245.4,576.0 L249.2,575.6 L253.0,575.2 L256.9,574.8 L260.7,574.4 L264.5,574.0 L268.3,573.6 L272.2,573.2 L276.0,572.8" fill="none" stroke="#000" stroke-width="1.3" stroke-dasharray="8.2 3 1.1 3"/>
<path d="M50.2,596.3 L54.0,596.4 L57.9,596.5 L61.7,596.6 L65.6,596.6 L69.4,596.7 L73.3,596.7 L77.1,596.8 L81.0,596.8 L84.8,596.8 L88.6,596.8 L92.5,596.8 L96.3,596.8 L100.2,596.8 L104.0,596.8 L107.9,596.8 L111.7,596.7 L115.5,596.7 L119.4,596.6 L123.2,596.5 L127.1,596.4 L130.9,596.3 L134.8,596.2 L138.6,596.1 L142.5,596.0 L146.3,595.9 L150.1,595.7 L154.0,595.6 L157.8,595.4 L161.7,595.3 L165.5,595.1 L169.4,594.9 L173.2,594.7 L177.1,594.5 L180.9,594.3 L184.7,594.0 L188.6,593.8 L192.4,593.6 L196.3,593.3 L200.1,593.0 L204.0,592.8 L207.8,592.5 L211.7,592.2 L215.5,591.9 L219.3,591.6 L223.2,591.2 L227.0,590.9 L230.9,590.6 L234.7,590.2 L238.6,589.9 L242.4,589.5 L246.2,589.1 L250.1,588.7 L253.9,588.3 L257.8,587.9 L261.6,587.5 L265.5,587.1 L269.3,586.6 L273.2,586.2 L277.0,585.7" fill="none" stroke="#000" stroke-width="1.2" stroke-dasharray="6.5 2.4 1.1 2.4 1.1 2.4"/>
<circle cx="49.1" cy="25.1" r="1.65" fill="#fff" stroke="#000" stroke-width="0.95"/>
<circle cx="96.1" cy="27.1" r="1.65" fill="#fff" stroke="#000" stroke-width="0.95"/>
<circle cx="45.6" cy="49.4" r="1.65" fill="#fff" stroke="#000" stroke-width="0.95"/>
<circle cx="87.8" cy="45.7" r="1.65" fill="#fff" stroke="#000" stroke-width="0.95"/>
<circle cx="89.4" cy="48.6" r="1.65" fill="#fff" stroke="#000" stroke-width="0.95"/>
<circle cx="93.9" cy="48.2" r="1.65" fill="#fff" stroke="#000" stroke-width="0.95"/>
<circle cx="107.7" cy="54.5" r="1.65" fill="#fff" stroke="#000" stroke-width="0.95"/>
<circle cx="124.1" cy="42.1" r="1.65" fill="#fff" stroke="#000" stroke-width="0.95"/>
<circle cx="136.4" cy="66.8" r="1.65" fill="#fff" stroke="#000" stroke-width="0.95"/>
<circle cx="71.5" cy="95.5" r="1.65" fill="#fff" stroke="#000" stroke-width="0.95"/>
<circle cx="183.7" cy="105.0" r="1.65" fill="#fff" stroke="#000" stroke-width="0.95"/>
<path d="M221.6,91.80 L223.50,93.7 L221.6,95.60 L219.70,93.7Z" fill="#fff" stroke="#000" stroke-width="0.95"/>
<circle cx="221.6" cy="141.5" r="1.65" fill="#fff" stroke="#000" stroke-width="0.95"/>
<path d="M278.0,123.10 L279.90,125.0 L278.0,126.90 L276.10,125.0Z" fill="#fff" stroke="#000" stroke-width="0.95"/>
<circle cx="277.7" cy="145.9" r="1.65" fill="#fff" stroke="#000" stroke-width="0.95"/>
<circle cx="270.2" cy="154.7" r="1.65" fill="#fff" stroke="#000" stroke-width="0.95"/>
<circle cx="161.6" cy="165.1" r="1.65" fill="#fff" stroke="#000" stroke-width="0.95"/>
<rect x="44.00" y="116.50" width="3.2" height="3.2" fill="#fff" stroke="#000" stroke-width="1.05"/>
<rect x="86.70" y="113.50" width="3.2" height="3.2" fill="#fff" stroke="#000" stroke-width="1.05"/>
<rect x="92.00" y="118.00" width="3.2" height="3.2" fill="#fff" stroke="#000" stroke-width="1.05"/>
<rect x="69.90" y="138.60" width="3.2" height="3.2" fill="#fff" stroke="#000" stroke-width="1.05"/>
<rect x="105.90" y="83.80" width="3.2" height="3.2" fill="#fff" stroke="#000" stroke-width="1.05"/>
<rect x="134.30" y="96.10" width="3.2" height="3.2" fill="#fff" stroke="#000" stroke-width="1.05"/>
<rect x="122.20" y="108.20" width="3.2" height="3.2" fill="#fff" stroke="#000" stroke-width="1.05"/>
<rect x="159.40" y="37.50" width="3.2" height="3.2" fill="#fff" stroke="#000" stroke-width="1.05"/>
<rect x="181.80" y="61.20" width="3.2" height="3.2" fill="#fff" stroke="#000" stroke-width="1.05"/>
<rect x="220.00" y="44.80" width="3.2" height="3.2" fill="#fff" stroke="#000" stroke-width="1.05"/>
<rect x="269.30" y="20.90" width="3.2" height="3.2" fill="#fff" stroke="#000" stroke-width="1.05"/>
<rect x="275.90" y="29.00" width="3.2" height="3.2" fill="#fff" stroke="#000" stroke-width="1.05"/>
<rect x="316.20" y="28.00" width="3.2" height="3.2" fill="#fff" stroke="#000" stroke-width="1.05"/>
<rect x="95.00" y="146.60" width="3.2" height="3.2" fill="#fff" stroke="#000" stroke-width="1.05"/>
<rect x="47.50" y="152.00" width="3.2" height="3.2" fill="#fff" stroke="#000" stroke-width="1.05"/>
<path d="M45.6,100.80 L47.50,102.7 L45.6,104.60 L43.70,102.7Z" fill="#fff" stroke="#000" stroke-width="0.95"/>
<path d="M87.8,86.50 L89.70,88.4 L87.8,90.30 L85.90,88.4Z" fill="#fff" stroke="#000" stroke-width="0.95"/>
<path d="M88.6,102.80 L90.50,104.7 L88.6,106.60 L86.70,104.7Z" fill="#fff" stroke="#000" stroke-width="0.95"/>
<path d="M94.1,106.70 L96.00,108.6 L94.1,110.50 L92.20,108.6Z" fill="#fff" stroke="#000" stroke-width="0.95"/>
<path d="M96.1,137.80 L98.00,139.7 L96.1,141.60 L94.20,139.7Z" fill="#fff" stroke="#000" stroke-width="0.95"/>
<path d="M107.5,142.60 L109.40,144.5 L107.5,146.40 L105.60,144.5Z" fill="#fff" stroke="#000" stroke-width="0.95"/>
<path d="M135.9,90.80 L137.80,92.7 L135.9,94.60 L134.00,92.7Z" fill="#fff" stroke="#000" stroke-width="0.95"/>
<path d="M183.7,92.00 L185.60,93.9 L183.7,95.80 L181.80,93.9Z" fill="#fff" stroke="#000" stroke-width="0.95"/>
<path d="M123.8,125.00 L125.70,126.9 L123.8,128.80 L121.90,126.9Z" fill="#fff" stroke="#000" stroke-width="0.95"/>
<path d="M161.0,137.00 L162.90,138.9 L161.0,140.80 L159.10,138.9Z" fill="#fff" stroke="#000" stroke-width="0.95"/>
<path d="M160.8,106.00 L162.70,109.30 L158.90,109.30Z" fill="#fff" stroke="#000" stroke-width="1.0"/>
<path d="M183.7,149.60 L185.60,152.90 L181.80,152.90Z" fill="#fff" stroke="#000" stroke-width="1.0"/>
<path d="M317.6,128.90 L319.50,132.20 L315.70,132.20Z" fill="#fff" stroke="#000" stroke-width="1.0"/>
<path d="M221.4,155.20 L223.30,158.50 L219.50,158.50Z" fill="#fff" stroke="#000" stroke-width="1.0"/>
<path d="M93.7,146.30 L95.60,149.60 L91.80,149.60Z" fill="#fff" stroke="#000" stroke-width="1.0"/>
<path d="M45.6,151.90 L47.50,155.20 L43.70,155.20Z" fill="#fff" stroke="#000" stroke-width="1.0"/>
<path d="M123.9,157.00 L125.80,160.30 L122.00,160.30Z" fill="#fff" stroke="#000" stroke-width="1.0"/>
<path d="M136.4,156.20 L138.30,159.50 L134.50,159.50Z" fill="#fff" stroke="#000" stroke-width="1.0"/>
<path d="M69.90,45.7H73.10M71.5,44.10V47.30" stroke="#000" stroke-width="0.9"/>
<path d="M47.30,143.8H50.50M48.9,142.20V145.40" stroke="#000" stroke-width="0.9"/>
<path d="M105.90,151.4H109.10M107.5,149.80V153.00" stroke="#000" stroke-width="0.9"/>
<path d="M134.80,161.4H138.00M136.4,159.80V163.00" stroke="#000" stroke-width="0.9"/>
<path d="M122.30,165.1H125.50M123.9,163.50V166.70" stroke="#000" stroke-width="0.9"/>
<path d="M92.70,163.70L95.50,166.50M95.50,163.70L92.70,166.50" stroke="#000" stroke-width="0.9"/>
<path d="M105.60,164.10L108.40,166.90M108.40,164.10L105.60,166.90" stroke="#000" stroke-width="0.9"/>
<path d="M182.80,163.70L185.60,166.50M185.60,163.70L182.80,166.50" stroke="#000" stroke-width="0.9"/>
<path d="M46.20,167.10L49.00,169.90M49.00,167.10L46.20,169.90" stroke="#000" stroke-width="0.9"/>
<path d="M45.80,168.20L49.40,171.80M49.40,168.20L45.80,171.80" stroke="#000" stroke-width="1.5"/>
<path d="M71.3,168.20 L73.30,171.60 L69.30,171.60Z" fill="#000" stroke="#000" stroke-width="0.6"/>
<rect x="85.40" y="168.30" width="3.8" height="3.8" fill="#000"/>
<path d="M91.90,168.20L95.50,171.80M95.50,168.20L91.90,171.80" stroke="#000" stroke-width="1.5"/>
<path d="M122.50,169.00L125.30,171.80M125.30,169.00L122.50,171.80" stroke="#000" stroke-width="0.9"/>
<path d="M134.80,170.4H138.00M136.4,168.80V172.00" stroke="#000" stroke-width="0.9"/>
<path d="M220.00,169.00L222.80,171.80M222.80,169.00L220.00,171.80" stroke="#000" stroke-width="0.9"/>
<rect x="268.60" y="168.40" width="3.8" height="3.8" fill="#000"/>
<path d="M275.90,168.20L279.50,171.80M279.50,168.20L275.90,171.80" stroke="#000" stroke-width="1.5"/>
<circle cx="317.6" cy="170.3" r="2" fill="#000"/>
<rect x="315.70" y="147.40" width="3.8" height="3.8" fill="#000"/>
<rect x="36.50" y="242.20" width="3.2" height="3.2" fill="#fff" stroke="#000" stroke-width="1.05"/>
<rect x="55.30" y="235.20" width="3.2" height="3.2" fill="#fff" stroke="#000" stroke-width="1.05"/>
<rect x="92.50" y="242.70" width="3.2" height="3.2" fill="#fff" stroke="#000" stroke-width="1.05"/>
<rect x="98.80" y="251.50" width="3.2" height="3.2" fill="#fff" stroke="#000" stroke-width="1.05"/>
<path d="M109.2,257.40 L111.10,259.3 L109.2,261.20 L107.30,259.3Z" fill="#fff" stroke="#000" stroke-width="0.95"/>
<rect x="147.10" y="259.10" width="3.2" height="3.2" fill="#fff" stroke="#000" stroke-width="1.05"/>
<rect x="120.50" y="275.70" width="3.2" height="3.2" fill="#fff" stroke="#000" stroke-width="1.05"/>
<rect x="192.10" y="297.30" width="3.2" height="3.2" fill="#fff" stroke="#000" stroke-width="1.05"/>
<rect x="126.50" y="309.40" width="3.2" height="3.2" fill="#fff" stroke="#000" stroke-width="1.05"/>
<rect x="109.40" y="326.40" width="3.2" height="3.2" fill="#fff" stroke="#000" stroke-width="1.05"/>
<rect x="173.30" y="329.00" width="3.2" height="3.2" fill="#fff" stroke="#000" stroke-width="1.05"/>
<rect x="178.00" y="330.20" width="3.2" height="3.2" fill="#fff" stroke="#000" stroke-width="1.05"/>
<rect x="168.70" y="358.60" width="3.2" height="3.2" fill="#fff" stroke="#000" stroke-width="1.05"/>
<rect x="243.70" y="321.40" width="3.2" height="3.2" fill="#fff" stroke="#000" stroke-width="1.05"/>
<rect x="304.90" y="351.10" width="3.2" height="3.2" fill="#fff" stroke="#000" stroke-width="1.05"/>
<rect x="313.70" y="364.40" width="3.2" height="3.2" fill="#fff" stroke="#000" stroke-width="1.05"/>
<circle cx="111.2" cy="262.8" r="1.65" fill="#fff" stroke="#000" stroke-width="0.95"/>
<circle cx="170.3" cy="241.1" r="1.65" fill="#fff" stroke="#000" stroke-width="0.95"/>
<circle cx="174.9" cy="263.2" r="1.65" fill="#fff" stroke="#000" stroke-width="0.95"/>
<circle cx="179.6" cy="262.7" r="1.65" fill="#fff" stroke="#000" stroke-width="0.95"/>
<circle cx="193.7" cy="268.2" r="1.65" fill="#fff" stroke="#000" stroke-width="0.95"/>
<circle cx="128.1" cy="279.8" r="1.65" fill="#fff" stroke="#000" stroke-width="0.95"/>
<circle cx="245.3" cy="255.9" r="1.65" fill="#fff" stroke="#000" stroke-width="0.95"/>
<circle cx="315.3" cy="239.3" r="1.65" fill="#fff" stroke="#000" stroke-width="0.95"/>
<circle cx="111.0" cy="317.2" r="1.65" fill="#fff" stroke="#000" stroke-width="0.95"/>
<circle cx="148.2" cy="306.9" r="1.65" fill="#fff" stroke="#000" stroke-width="0.95"/>
<circle cx="122.6" cy="317.7" r="1.65" fill="#fff" stroke="#000" stroke-width="0.95"/>
<circle cx="306.5" cy="308.4" r="1.65" fill="#fff" stroke="#000" stroke-width="0.95"/>
<circle cx="94.1" cy="359.0" r="1.65" fill="#fff" stroke="#000" stroke-width="0.95"/>
<circle cx="56.4" cy="366.4" r="1.65" fill="#fff" stroke="#000" stroke-width="0.95"/>
<circle cx="148.5" cy="353.4" r="1.65" fill="#fff" stroke="#000" stroke-width="0.95"/>
<path d="M109.5,299.50 L111.40,301.4 L109.5,303.30 L107.60,301.4Z" fill="#fff" stroke="#000" stroke-width="0.95"/>
<path d="M122.6,305.30 L124.50,307.2 L122.6,309.10 L120.70,307.2Z" fill="#fff" stroke="#000" stroke-width="0.95"/>
<path d="M128.1,304.50 L130.00,306.4 L128.1,308.30 L126.20,306.4Z" fill="#fff" stroke="#000" stroke-width="0.95"/>
<path d="M174.9,313.30 L176.80,315.2 L174.9,317.10 L173.00,315.2Z" fill="#fff" stroke="#000" stroke-width="0.95"/>
<path d="M179.1,319.90 L181.00,321.8 L179.1,323.70 L177.20,321.8Z" fill="#fff" stroke="#000" stroke-width="0.95"/>
<path d="M94.1,336.20 L96.00,338.1 L94.1,340.00 L92.20,338.1Z" fill="#fff" stroke="#000" stroke-width="0.95"/>
<path d="M100.4,350.30 L102.30,352.2 L100.4,354.10 L98.50,352.2Z" fill="#fff" stroke="#000" stroke-width="0.95"/>
<path d="M170.3,350.30 L172.20,352.2 L170.3,354.10 L168.40,352.2Z" fill="#fff" stroke="#000" stroke-width="0.95"/>
<path d="M193.7,355.10 L195.60,357.0 L193.7,358.90 L191.80,357.0Z" fill="#fff" stroke="#000" stroke-width="0.95"/>
<path d="M245.3,337.00 L247.20,338.9 L245.3,340.80 L243.40,338.9Z" fill="#fff" stroke="#000" stroke-width="0.95"/>
<path d="M38.1,342.00 L40.00,345.30 L36.20,345.30Z" fill="#fff" stroke="#000" stroke-width="1.0"/>
<path d="M122.6,362.10 L124.50,365.40 L120.70,365.40Z" fill="#fff" stroke="#000" stroke-width="1.0"/>
<path d="M148.2,366.70 L150.10,370.00 L146.30,370.00Z" fill="#fff" stroke="#000" stroke-width="1.0"/>
<path d="M179.6,358.30 L181.50,361.60 L177.70,361.60Z" fill="#fff" stroke="#000" stroke-width="1.0"/>
<path d="M174.9,363.80 L176.80,367.10 L173.00,367.10Z" fill="#fff" stroke="#000" stroke-width="1.0"/>
<path d="M245.3,370.70 L247.20,374.00 L243.40,374.00Z" fill="#fff" stroke="#000" stroke-width="1.0"/>
<path d="M194.2,372.70 L196.10,376.00 L192.30,376.00Z" fill="#fff" stroke="#000" stroke-width="1.0"/>
<path d="M128.1,370.70 L130.00,374.00 L126.20,374.00Z" fill="#fff" stroke="#000" stroke-width="1.0"/>
<path d="M304.60,259.4H307.80M306.2,257.80V261.00" stroke="#000" stroke-width="0.9"/>
<path d="M99.20,321.0H102.40M100.8,319.40V322.60" stroke="#000" stroke-width="0.9"/>
<path d="M192.10,365.0H195.30M193.7,363.40V366.60" stroke="#000" stroke-width="0.9"/>
<path d="M243.70,377.1H246.90M245.3,375.50V378.70" stroke="#000" stroke-width="0.9"/>
<path d="M313.70,356.4H316.90M315.3,354.80V358.00" stroke="#000" stroke-width="0.9"/>
<path d="M121.20,376.70L124.00,379.50M124.00,376.70L121.20,379.50" stroke="#000" stroke-width="0.9"/>
<path d="M177.70,376.20L180.50,379.00M180.50,376.20L177.70,379.00" stroke="#000" stroke-width="0.9"/>
<path d="M243.90,380.70L246.70,383.50M246.70,380.70L243.90,383.50" stroke="#000" stroke-width="0.9"/>
<path d="M92.70,379.50L95.50,382.30M95.50,379.50L92.70,382.30" stroke="#000" stroke-width="0.9"/>
<path d="M126.70,379.60L129.50,382.40M129.50,379.60L126.70,382.40" stroke="#000" stroke-width="0.9"/>
<path d="M146.80,379.60L149.60,382.40M149.60,379.60L146.80,382.40" stroke="#000" stroke-width="0.9"/>
<rect x="35.70" y="359.40" width="3.8" height="3.8" fill="#000"/>
<circle cx="37.6" cy="382.1" r="2" fill="#000"/>
<rect x="54.50" y="380.20" width="3.8" height="3.8" fill="#000"/>
<path d="M98.60,379.00L102.20,382.60M102.20,379.00L98.60,382.60" stroke="#000" stroke-width="1.5"/>
<rect x="108.60" y="379.50" width="3.8" height="3.8" fill="#000"/>
<rect x="168.40" y="379.30" width="3.8" height="3.8" fill="#000"/>
<rect x="174.00" y="379.50" width="3.8" height="3.8" fill="#000"/>
<rect x="306.60" y="379.70" width="3.8" height="3.8" fill="#000"/>
<rect x="310.60" y="379.70" width="3.8" height="3.8" fill="#000"/>
<rect x="314.10" y="379.70" width="3.8" height="3.8" fill="#000"/>
<path d="M94.1,378.50 L96.10,381.90 L92.10,381.90Z" fill="#000" stroke="#000" stroke-width="0.6"/>
<circle cx="51.7" cy="453.0" r="1.65" fill="#fff" stroke="#000" stroke-width="0.95"/>
<circle cx="50.2" cy="477.7" r="1.65" fill="#fff" stroke="#000" stroke-width="0.95"/>
<circle cx="119.1" cy="455.1" r="1.65" fill="#fff" stroke="#000" stroke-width="0.95"/>
<circle cx="118.8" cy="470.6" r="1.65" fill="#fff" stroke="#000" stroke-width="0.95"/>
<circle cx="116.8" cy="476.4" r="1.65" fill="#fff" stroke="#000" stroke-width="0.95"/>
<circle cx="119.1" cy="482.2" r="1.65" fill="#fff" stroke="#000" stroke-width="0.95"/>
<circle cx="136.4" cy="473.9" r="1.65" fill="#fff" stroke="#000" stroke-width="0.95"/>
<circle cx="135.7" cy="476.9" r="1.65" fill="#fff" stroke="#000" stroke-width="0.95"/>
<circle cx="115.6" cy="494.5" r="1.65" fill="#fff" stroke="#000" stroke-width="0.95"/>
<circle cx="62.0" cy="523.2" r="1.65" fill="#fff" stroke="#000" stroke-width="0.95"/>
<circle cx="131.4" cy="521.9" r="1.65" fill="#fff" stroke="#000" stroke-width="0.95"/>
<circle cx="135.7" cy="532.7" r="1.65" fill="#fff" stroke="#000" stroke-width="0.95"/>
<circle cx="139.7" cy="532.7" r="1.65" fill="#fff" stroke="#000" stroke-width="0.95"/>
<circle cx="120.0" cy="537.8" r="1.65" fill="#fff" stroke="#000" stroke-width="0.95"/>
<circle cx="203.8" cy="553.1" r="1.65" fill="#fff" stroke="#000" stroke-width="0.95"/>
<circle cx="205.1" cy="574.7" r="1.65" fill="#fff" stroke="#000" stroke-width="0.95"/>
<circle cx="242.8" cy="582.2" r="1.65" fill="#fff" stroke="#000" stroke-width="0.95"/>
<circle cx="167.8" cy="595.1" r="1.65" fill="#fff" stroke="#000" stroke-width="0.95"/>
<rect x="129.80" y="472.80" width="3.2" height="3.2" fill="#fff" stroke="#000" stroke-width="1.05"/>
<rect x="165.70" y="465.30" width="3.2" height="3.2" fill="#fff" stroke="#000" stroke-width="1.05"/>
<rect x="137.80" y="489.80" width="3.2" height="3.2" fill="#fff" stroke="#000" stroke-width="1.05"/>
<rect x="203.00" y="456.80" width="3.2" height="3.2" fill="#fff" stroke="#000" stroke-width="1.05"/>
<rect x="241.20" y="449.00" width="3.2" height="3.2" fill="#fff" stroke="#000" stroke-width="1.05"/>
<rect x="274.00" y="456.00" width="3.2" height="3.2" fill="#fff" stroke="#000" stroke-width="1.05"/>
<rect x="117.70" y="511.80" width="3.2" height="3.2" fill="#fff" stroke="#000" stroke-width="1.05"/>
<rect x="114.00" y="524.10" width="3.2" height="3.2" fill="#fff" stroke="#000" stroke-width="1.05"/>
<rect x="48.60" y="544.70" width="3.2" height="3.2" fill="#fff" stroke="#000" stroke-width="1.05"/>
<rect x="117.70" y="537.20" width="3.2" height="3.2" fill="#fff" stroke="#000" stroke-width="1.05"/>
<rect x="114.70" y="545.20" width="3.2" height="3.2" fill="#fff" stroke="#000" stroke-width="1.05"/>
<rect x="134.80" y="541.70" width="3.2" height="3.2" fill="#fff" stroke="#000" stroke-width="1.05"/>
<rect x="49.80" y="579.70" width="3.2" height="3.2" fill="#fff" stroke="#000" stroke-width="1.05"/>
<path d="M50.2,528.80 L52.10,530.7 L50.2,532.60 L48.30,530.7Z" fill="#fff" stroke="#000" stroke-width="0.95"/>
<path d="M115.6,519.50 L117.50,521.4 L115.6,523.30 L113.70,521.4Z" fill="#fff" stroke="#000" stroke-width="0.95"/>
<path d="M136.4,514.50 L138.30,516.4 L136.4,518.30 L134.50,516.4Z" fill="#fff" stroke="#000" stroke-width="0.95"/>
<path d="M139.4,520.00 L141.30,521.9 L139.4,523.80 L137.50,521.9Z" fill="#fff" stroke="#000" stroke-width="0.95"/>
<path d="M118.8,552.70 L120.70,554.6 L118.8,556.50 L116.90,554.6Z" fill="#fff" stroke="#000" stroke-width="0.95"/>
<path d="M131.4,567.50 L133.30,569.4 L131.4,571.30 L129.50,569.4Z" fill="#fff" stroke="#000" stroke-width="0.95"/>
<path d="M167.3,565.30 L169.20,567.2 L167.3,569.10 L165.40,567.2Z" fill="#fff" stroke="#000" stroke-width="0.95"/>
<path d="M167.3,534.30 L169.20,537.60 L165.40,537.60Z" fill="#fff" stroke="#000" stroke-width="1.0"/>
<path d="M62.0,566.40 L63.90,569.70 L60.10,569.70Z" fill="#fff" stroke="#000" stroke-width="1.0"/>
<path d="M51.4,579.40 L53.30,582.70 L49.50,582.70Z" fill="#fff" stroke="#000" stroke-width="1.0"/>
<path d="M131.4,582.40 L133.30,585.70 L129.50,585.70Z" fill="#fff" stroke="#000" stroke-width="1.0"/>
<path d="M275.8,557.50 L277.70,560.80 L273.90,560.80Z" fill="#fff" stroke="#000" stroke-width="1.0"/>
<path d="M139.4,577.70 L141.40,581.10 L137.40,581.10Z" fill="#000" stroke="#000" stroke-width="0.6"/>
<path d="M119.3,566.20 L121.20,568.1 L119.3,570.00 L117.40,568.1Z" fill="#fff" stroke="#000" stroke-width="0.95"/>
<path d="M119.3,570.60 L121.20,572.5 L119.3,574.40 L117.40,572.5Z" fill="#fff" stroke="#000" stroke-width="0.95"/>
<path d="M117.8,574.30 L119.70,577.60 L115.90,577.60Z" fill="#fff" stroke="#000" stroke-width="1.0"/>
<circle cx="120.2" cy="575.8" r="1.65" fill="#fff" stroke="#000" stroke-width="0.95"/>
<path d="M118.00,579.4H121.20M119.6,577.80V581.00" stroke="#000" stroke-width="0.9"/>
<path d="M114.40,584.70L117.20,587.50M117.20,584.70L114.40,587.50" stroke="#000" stroke-width="0.9"/>
<path d="M118.8,586.70 L120.70,588.6 L118.8,590.50 L116.90,588.6Z" fill="#fff" stroke="#000" stroke-width="0.95"/>
<path d="M113.90,589.20L116.70,592.00M116.70,589.20L113.90,592.00" stroke="#000" stroke-width="0.9"/>
<path d="M116.10,592.20L119.70,595.80M119.70,592.20L116.10,595.80" stroke="#000" stroke-width="1.5"/>
<rect x="116.30" y="595.10" width="3.8" height="3.8" fill="#000"/>
<path d="M59.90,472.7H63.10M61.5,471.10V474.30" stroke="#000" stroke-width="0.9"/>
<path d="M114.70,536.5H117.90M116.3,534.90V538.10" stroke="#000" stroke-width="0.9"/>
<path d="M138.80,593.20L141.60,596.00M141.60,593.20L138.80,596.00" stroke="#000" stroke-width="0.9"/>
<path d="M203.20,595.70L206.00,598.50M206.00,595.70L203.20,598.50" stroke="#000" stroke-width="0.9"/>
<rect x="49.50" y="595.20" width="3.8" height="3.8" fill="#000"/>
<path d="M58.40,595.30L62.00,598.90M62.00,595.30L58.40,598.90" stroke="#000" stroke-width="1.5"/>
<rect x="128.60" y="595.20" width="3.8" height="3.8" fill="#000"/>
<rect x="132.60" y="595.20" width="3.8" height="3.8" fill="#000"/>
<rect x="135.80" y="595.20" width="3.8" height="3.8" fill="#000"/>
<rect x="240.90" y="595.80" width="3.8" height="3.8" fill="#000"/>
<circle cx="276.0" cy="597.7" r="2" fill="#000"/>
<rect x="274.10" y="575.40" width="3.8" height="3.8" fill="#000"/>
<line x1="313.6" y1="21.4" x2="316.8" y2="21.4" stroke="#555" stroke-width="0.8"/>
<line x1="32" y1="648.2" x2="46.5" y2="648.2" stroke="#000" stroke-width="1.4" stroke-dasharray="4.2 2.7"/>
<path d="M39.5,640.40 L41.40,642.3 L39.5,644.20 L37.60,642.3Z" fill="#fff" stroke="#000" stroke-width="0.95"/>
<text x="48.699999999999996" y="646.7" font-size="5.6" font-family="'Liberation Serif', 'Times New Roman', serif" font-weight="bold" textLength="34.1" lengthAdjust="spacingAndGlyphs" fill="#2a2a2a">Ceratophyllids</text>
<line x1="93" y1="648.2" x2="107" y2="648.2" stroke="#000" stroke-width="1.3" stroke-dasharray="1 0.9"/>
<path d="M98.50,642.3H101.70M100.1,640.70V643.90" stroke="#000" stroke-width="0.9"/>
<text x="108.8" y="646.7" font-size="5.6" font-family="'Liberation Serif', 'Times New Roman', serif" font-weight="bold" textLength="17.8" lengthAdjust="spacingAndGlyphs" fill="#2a2a2a">Charids</text>
<line x1="135.2" y1="648.2" x2="149.0" y2="648.2" stroke="#000" stroke-width="1.4" stroke-dasharray="2.6 1.1"/>
<circle cx="142.2" cy="642.3" r="1.65" fill="#fff" stroke="#000" stroke-width="0.95"/>
<text x="151.8" y="646.7" font-size="5.6" font-family="'Liberation Serif', 'Times New Roman', serif" font-weight="bold" textLength="19.5" lengthAdjust="spacingAndGlyphs" fill="#2a2a2a">Elodeids</text>
<line x1="180.2" y1="648.2" x2="194.2" y2="648.2" stroke="#000" stroke-width="1.4" stroke-dasharray="8 2.7"/>
<rect x="186.10" y="640.70" width="3.2" height="3.2" fill="#fff" stroke="#000" stroke-width="1.05"/>
<text x="196.9" y="646.7" font-size="5.6" font-family="'Liberation Serif', 'Times New Roman', serif" font-weight="bold" textLength="26.5" lengthAdjust="spacingAndGlyphs" fill="#2a2a2a">Helophytes</text>
<line x1="230" y1="648.2" x2="244" y2="648.2" stroke="#000" stroke-width="1.3" stroke-dasharray="4.2 1.6 0.8 1.6 0.8 1.6"/>
<path d="M235.20,640.90L238.00,643.70M238.00,640.90L235.20,643.70" stroke="#000" stroke-width="0.9"/>
<text x="246.4" y="646.7" font-size="5.6" font-family="'Liberation Serif', 'Times New Roman', serif" font-weight="bold" textLength="20.5" lengthAdjust="spacingAndGlyphs" fill="#2a2a2a">Lemnids</text>
<line x1="279.2" y1="648.2" x2="293.1" y2="648.2" stroke="#000" stroke-width="1.3" stroke-dasharray="4.6 1.6 0.8 1.6"/>
<path d="M286.0,640.40 L287.90,643.70 L284.10,643.70Z" fill="#fff" stroke="#000" stroke-width="1.0"/>
<text x="294.90000000000003" y="646.7" font-size="5.6" font-family="'Liberation Serif', 'Times New Roman', serif" font-weight="bold" textLength="30.6" lengthAdjust="spacingAndGlyphs" fill="#2a2a2a">Nymphaeids</text>
</svg>
</body></html>
